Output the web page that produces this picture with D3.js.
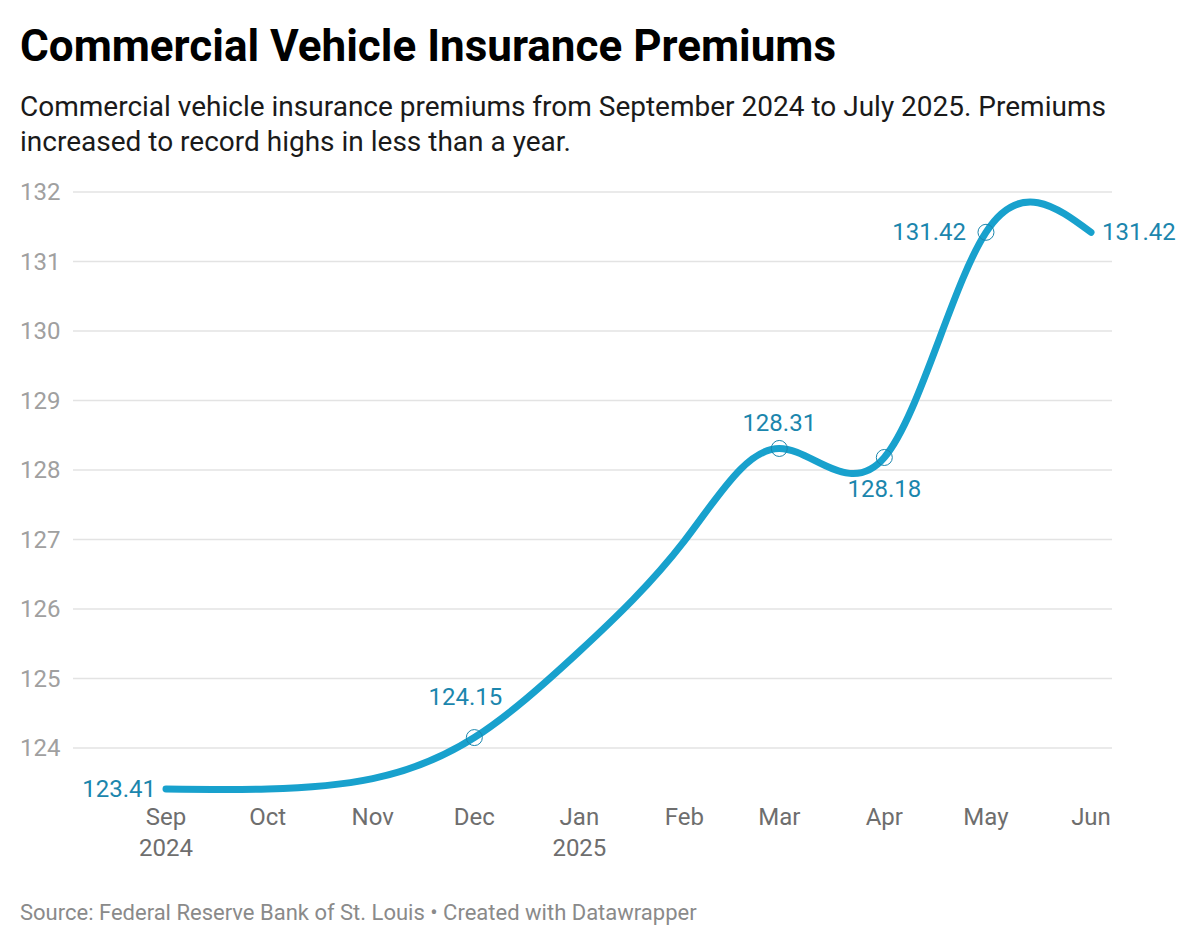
<!DOCTYPE html>
<html>
<head>
<meta charset="utf-8">
<script src="https://cdn.jsdelivr.net/npm/d3@7"></script>
<style>
  body { margin: 0; background: #fff; font-family: Roboto, sans-serif; }
  svg text { font-family: Roboto, sans-serif; }
</style>
</head>
<body>
<svg id="chart" width="1196" height="948"></svg>
<script>
// Datos del gráfico
const months = ["2024-09-01", "2024-10-01", "2024-11-01", "2024-12-01", "2025-01-01",
                "2025-02-01", "2025-03-01", "2025-04-01", "2025-05-01", "2025-06-01"];
const premiums = [123.41, 123.41, 123.56, 124.15, 125.39, 126.98, 128.31, 128.18, 131.42, 131.42];
const yTicks = [124, 125, 126, 127, 128, 129, 130, 131, 132];
const xTickLabels = ["Sep", "Oct", "Nov", "Dec", "Jan", "Feb", "Mar", "Apr", "May", "Jun"];
const yearLabels = ["2024", "", "", "", "2025", "", "", "", "", ""];
// puntos con etiqueta: índice y posición de la etiqueta
const labelled = [
  { i: 0, pos: "left" },
  { i: 3, pos: "above-left" },
  { i: 6, pos: "above" },
  { i: 7, pos: "below" },
  { i: 8, pos: "left" },
  { i: 9, pos: "right" }
];
const markerIdx = [3, 6, 7, 8];

const parse = d3.timeParse("%Y-%m-%d");
const data = months.map((m, i) => ({ date: parse(m), value: premiums[i] }));

const svg = d3.select("#chart");

// Título y subtítulo
svg.append("text").attr("x", 20).attr("y", 61)
  .attr("font-size", 44).attr("font-weight", 700).attr("fill", "#000")
  .text("Commercial Vehicle Insurance Premiums");
const sub = ["Commercial vehicle insurance premiums from September 2024 to July 2025. Premiums",
             "increased to record highs in less than a year."];
sub.forEach((s, i) => {
  svg.append("text").attr("x", 20).attr("y", 116 + i * 35)
    .attr("font-size", 28).attr("fill", "#1a1a1a").text(s);
});

const x = d3.scaleTime()
  .domain([data[0].date, data[data.length - 1].date])
  .range([166, 1091]);
const y = d3.scaleLinear().domain([124, 132]).range([748, 192]);

// Rejilla y etiquetas del eje Y
const gy = svg.append("g");
gy.selectAll("line").data(yTicks).enter().append("line")
  .attr("x1", 73).attr("x2", 1112)
  .attr("y1", d => y(d)).attr("y2", d => y(d))
  .attr("stroke", "#e3e3e3").attr("stroke-width", 1.3);
gy.selectAll("text").data(yTicks).enter().append("text")
  .attr("x", 20).attr("y", d => y(d)).attr("dy", "0.35em")
  .attr("font-size", 24).attr("fill", "#a0a0a0")
  .text(d => d);

// Etiquetas del eje X
const gx = svg.append("g");
gx.selectAll("text.m").data(data).enter().append("text").attr("class", "m")
  .attr("x", d => x(d.date)).attr("y", 825)
  .attr("text-anchor", "middle").attr("font-size", 24).attr("fill", "#6e6e6e")
  .text((d, i) => xTickLabels[i]);
gx.selectAll("text.yr").data(data).enter().append("text").attr("class", "yr")
  .attr("x", d => x(d.date)).attr("y", 856)
  .attr("text-anchor", "middle").attr("font-size", 24).attr("fill", "#6e6e6e")
  .text((d, i) => yearLabels[i]);

// Línea
const line = d3.line()
  .x(d => x(d.date)).y(d => y(d.value))
  .curve(d3.curveNatural);
svg.append("path").datum(data)
  .attr("d", line)
  .attr("fill", "none").attr("stroke", "#18a1cd")
  .attr("stroke-width", 7).attr("stroke-linecap", "round").attr("stroke-linejoin", "round");

// Marcadores
svg.selectAll("circle.mk").data(markerIdx).enter().append("circle").attr("class", "mk")
  .attr("cx", i => x(data[i].date)).attr("cy", i => y(data[i].value))
  .attr("r", 8).attr("fill", "none").attr("stroke", "#1b86ad").attr("stroke-width", 1);

// Etiquetas de valores
const labelColor = "#1b86ad";
const offX = { "left": -10, "right": 11, "above": 0, "above-left": -9, "below": 0 };
const offY = { "left": 8, "right": 8, "above": -17, "above-left": -33, "below": 40 };
svg.selectAll("text.val").data(labelled).enter().append("text").attr("class", "val")
  .attr("x", d => x(data[d.i].date) + offX[d.pos] + (d.i === 8 ? -10 : 0))
  .attr("y", d => y(data[d.i].value) + offY[d.pos])
  .attr("text-anchor", d => d.pos === "left" ? "end" : d.pos === "right" ? "start" : "middle")
  .attr("font-size", 24).attr("fill", labelColor)
  .text(d => data[d.i].value.toFixed(2));

// Fuente
svg.append("text").attr("x", 20).attr("y", 920)
  .attr("font-size", 22).attr("fill", "#8a8a8a")
  .text("Source: Federal Reserve Bank of St. Louis • Created with Datawrapper");
</script>
</body>
</html>
